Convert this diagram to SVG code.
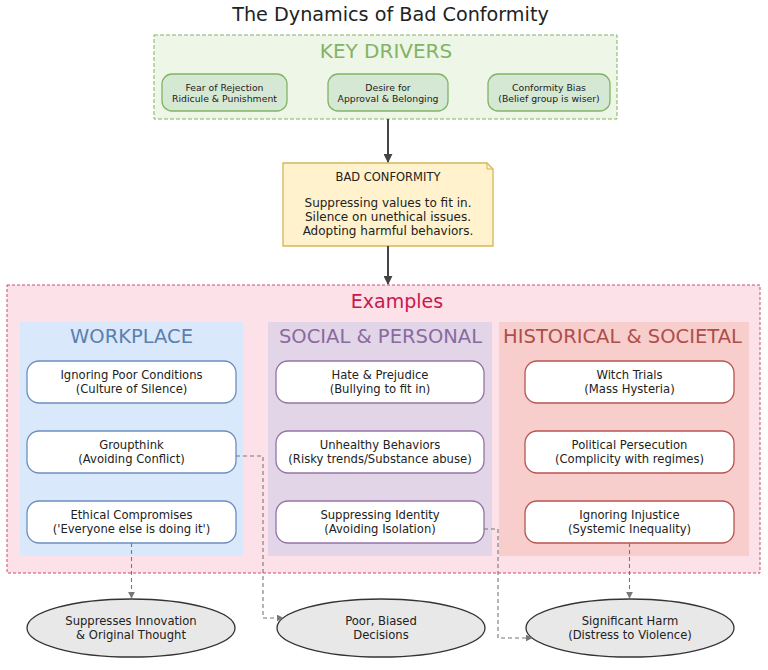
<svg xmlns="http://www.w3.org/2000/svg" width="768" height="670" viewBox="0 0 768 670">
<style>
text{font-family:"DejaVu Sans","Liberation Sans",sans-serif;fill:#222;text-anchor:middle}
.drv{fill:#d5e8d4;stroke:#82b366;stroke-width:1.3}
.dt{font-size:9.3px}
.nt{font-size:11.6px}
.wp{fill:#fff;stroke:#6c8ebf;stroke-width:1.3}
.sp{fill:#fff;stroke:#9673a6;stroke-width:1.3}
.hs{fill:#fff;stroke:#b85450;stroke-width:1.3}
.hdr{font-size:19.5px}
.ell{fill:#e8e8e8;stroke:#333;stroke-width:1.3}
.dash{fill:none;stroke:#777;stroke-width:1.1;stroke-dasharray:4 3}
.solid{fill:none;stroke:#444;stroke-width:2}
</style>
<defs>
<marker id="ah" viewBox="0 0 10 10" refX="9" refY="5" markerWidth="7" markerHeight="7" orient="auto" markerUnits="userSpaceOnUse">
<path d="M0,0 L10,5 L0,10 z" fill="#777"/>
</marker>
<marker id="ahs" viewBox="0 0 10 10" refX="9" refY="5" markerWidth="9" markerHeight="9" orient="auto" markerUnits="userSpaceOnUse">
<path d="M0,0 L10,5 L0,10 z" fill="#444"/>
</marker>
</defs>
<rect width="768" height="670" fill="#fff"/>
<text x="390.5" y="21" style="font-size:19.2px">The Dynamics of Bad Conformity</text>

<g id="key-drivers">
<rect x="154" y="35" width="463" height="84" fill="#edf6e7" stroke="#82b366" stroke-width="1" stroke-dasharray="4 2"/>
<text x="386" y="58" style="font-size:20px;fill:#82b366">KEY DRIVERS</text>
</g>
<g id="fear">
<rect class="drv" x="162" y="74" width="125" height="37" rx="10"/>
<text class="dt" x="224.5" y="90.5">Fear of Rejection</text>
<text class="dt" x="224.5" y="101.5">Ridicule &amp; Punishment</text>
</g>
<g id="desire">
<rect class="drv" x="328" y="74" width="120" height="37" rx="10"/>
<text class="dt" x="388" y="90.5">Desire for</text>
<text class="dt" x="388" y="101.5">Approval &amp; Belonging</text>
</g>
<g id="bias">
<rect class="drv" x="488" y="74" width="122" height="37" rx="10"/>
<text class="dt" x="549" y="90.5">Conformity Bias</text>
<text class="dt" x="549" y="101.5">(Belief group is wiser)</text>
</g>

<g id="bad-conformity">
<path d="M283,163 H487 L493,169 V246 H283 Z" fill="#fff2cc" stroke="#d6b656" stroke-width="1.3"/>
<path d="M487,163 V169 H493" fill="none" stroke="#d6b656" stroke-width="1"/>
<text x="388" y="181" style="font-size:11.5px">BAD CONFORMITY</text>
<text x="388" y="207" style="font-size:12px">Suppressing values to fit in.</text>
<text x="388" y="221" style="font-size:12px">Silence on unethical issues.</text>
<text x="388" y="235" style="font-size:12px">Adopting harmful behaviors.</text>
</g>

<g id="examples">
<rect x="7" y="285" width="753" height="288" fill="#fde1e8" stroke="#d04a72" stroke-width="1" stroke-dasharray="3 2"/>
<text x="397" y="308" style="font-size:19px;fill:#c8174f">Examples</text>
</g>

<g id="workplace">
<rect x="20" y="322" width="223" height="234" fill="#dae8fc"/>
<text class="hdr" x="131.5" y="343" style="fill:#5b7fae">WORKPLACE</text>
</g>
<g id="social">
<rect x="268" y="322" width="224" height="234" fill="#e1d5e7"/>
<text class="hdr" x="380.5" y="343" style="fill:#8a6aa0">SOCIAL &amp; PERSONAL</text>
</g>
<g id="historical">
<rect x="499" y="322" width="250" height="234" fill="#f8cecc"/>
<text class="hdr" x="622.5" y="343" style="fill:#ad4e4b">HISTORICAL &amp; SOCIETAL</text>
</g>

<g id="ignoring-poor">
<rect class="wp" x="27" y="361" width="209" height="42" rx="12"/>
<text class="nt" x="131.5" y="379">Ignoring Poor Conditions</text>
<text class="nt" x="131.5" y="393">(Culture of Silence)</text>
</g>
<g id="groupthink">
<rect class="wp" x="27" y="431" width="209" height="42" rx="12"/>
<text class="nt" x="131.5" y="449">Groupthink</text>
<text class="nt" x="131.5" y="463">(Avoiding Conflict)</text>
</g>
<g id="ethical">
<rect class="wp" x="27" y="501" width="209" height="42" rx="12"/>
<text class="nt" x="131.5" y="519">Ethical Compromises</text>
<text class="nt" x="131.5" y="533">('Everyone else is doing it')</text>
</g>

<g id="hate">
<rect class="sp" x="276" y="361" width="208" height="42" rx="12"/>
<text class="nt" x="380" y="379">Hate &amp; Prejudice</text>
<text class="nt" x="380" y="393">(Bullying to fit in)</text>
</g>
<g id="unhealthy">
<rect class="sp" x="276" y="431" width="208" height="42" rx="12"/>
<text class="nt" x="380" y="449">Unhealthy Behaviors</text>
<text class="nt" x="380" y="463">(Risky trends/Substance abuse)</text>
</g>
<g id="suppressing-identity">
<rect class="sp" x="276" y="501" width="208" height="42" rx="12"/>
<text class="nt" x="380" y="519">Suppressing Identity</text>
<text class="nt" x="380" y="533">(Avoiding Isolation)</text>
</g>

<g id="witch">
<rect class="hs" x="525" y="361" width="209" height="42" rx="12"/>
<text class="nt" x="629.5" y="379">Witch Trials</text>
<text class="nt" x="629.5" y="393">(Mass Hysteria)</text>
</g>
<g id="political">
<rect class="hs" x="525" y="431" width="209" height="42" rx="12"/>
<text class="nt" x="629.5" y="449">Political Persecution</text>
<text class="nt" x="629.5" y="463">(Complicity with regimes)</text>
</g>
<g id="injustice">
<rect class="hs" x="525" y="501" width="209" height="42" rx="12"/>
<text class="nt" x="629.5" y="519">Ignoring Injustice</text>
<text class="nt" x="629.5" y="533">(Systemic Inequality)</text>
</g>

<g id="innovation">
<ellipse class="ell" cx="131" cy="628" rx="104" ry="29"/>
<text class="nt" x="131" y="624.5">Suppresses Innovation</text>
<text class="nt" x="131" y="638.5">&amp; Original Thought</text>
</g>
<g id="poor-decisions">
<ellipse class="ell" cx="381" cy="628" rx="104" ry="29"/>
<text class="nt" x="381" y="624.5">Poor, Biased</text>
<text class="nt" x="381" y="638.5">Decisions</text>
</g>
<g id="harm">
<ellipse class="ell" cx="630" cy="628" rx="104" ry="29"/>
<text class="nt" x="630" y="624.5">Significant Harm</text>
<text class="nt" x="630" y="638.5">(Distress to Violence)</text>
</g>

<g id="connectors">
<path class="solid" d="M388,119 V162" marker-end="url(#ahs)"/>
<path class="solid" d="M388,246 V284" marker-end="url(#ahs)"/>
<path class="dash" d="M131.5,543 V598" marker-end="url(#ah)"/>
<path class="dash" d="M236,456 H263 V618 H283" marker-end="url(#ah)"/>
<path class="dash" d="M484,529 H498 V638 H532" marker-end="url(#ah)"/>
<path class="dash" d="M629.5,543 V598" marker-end="url(#ah)"/>
</g>
</svg>
